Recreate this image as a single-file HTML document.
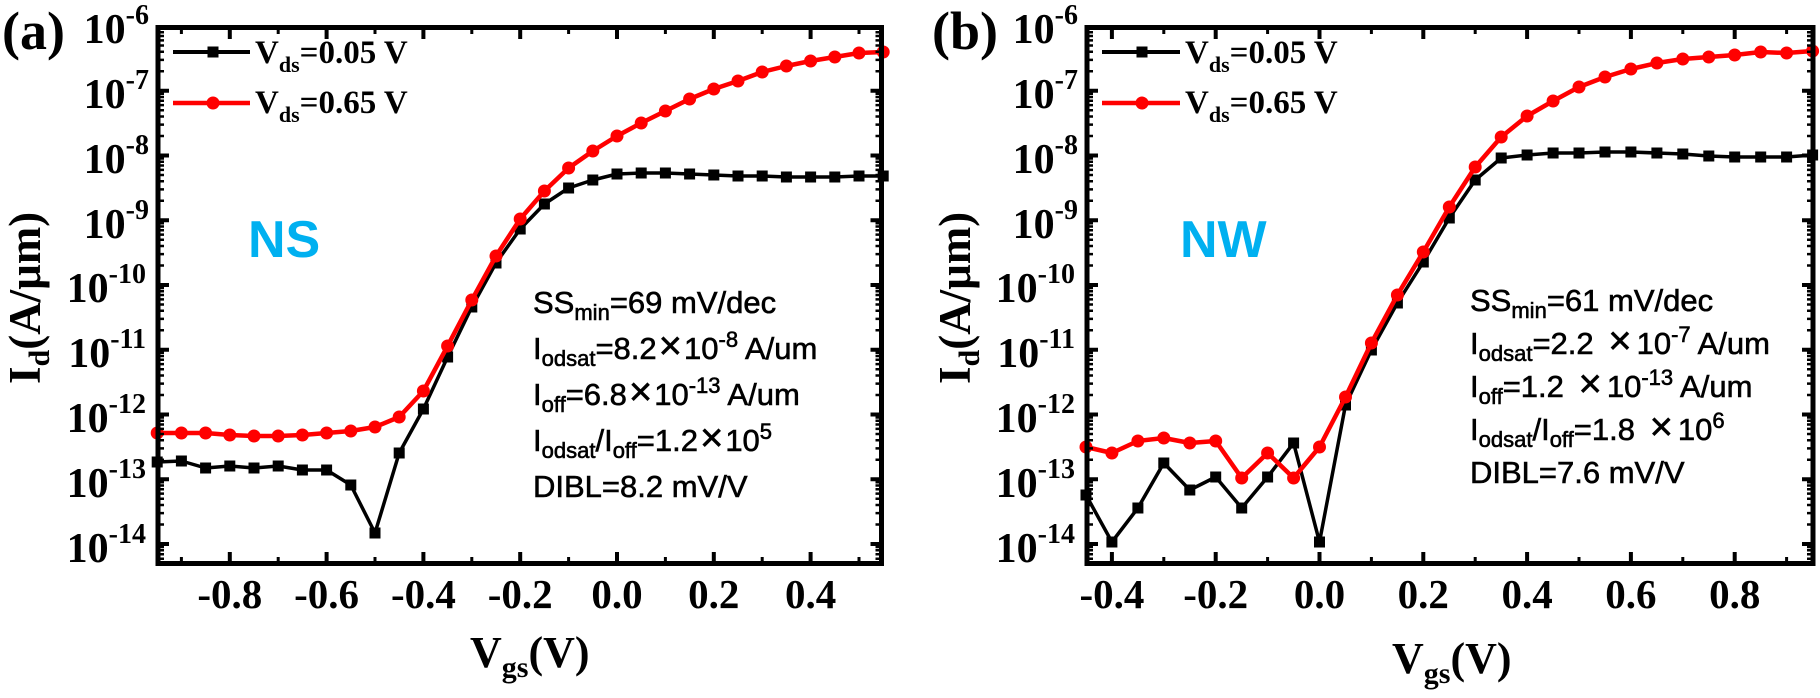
<!DOCTYPE html>
<html><head><meta charset="utf-8"><style>html,body{margin:0;padding:0;background:#fff}svg{display:block}</style></head>
<body>
<svg width="1820" height="698" viewBox="0 0 1820 698" xmlns="http://www.w3.org/2000/svg" xmlns:xlink="http://www.w3.org/1999/xlink">
<defs>
<path id="ym" fill="none" stroke="#000" stroke-width="2.5" d="M0 71.25h6M0 59.85h6M0 51.75h6M0 45.45h6M0 40.35h6M0 36.05h6M0 32.25h6M0 136h6M0 124.6h6M0 116.5h6M0 110.2h6M0 105.1h6M0 100.8h6M0 97h6M0 93.7h6M0 200.75h6M0 189.35h6M0 181.25h6M0 174.95h6M0 169.85h6M0 165.55h6M0 161.75h6M0 158.45h6M0 265.5h6M0 254.1h6M0 246h6M0 239.7h6M0 234.6h6M0 230.3h6M0 226.5h6M0 223.2h6M0 330.25h6M0 318.85h6M0 310.75h6M0 304.45h6M0 299.35h6M0 295.05h6M0 291.25h6M0 287.95h6M0 395h6M0 383.6h6M0 375.5h6M0 369.2h6M0 364.1h6M0 359.8h6M0 356h6M0 352.7h6M0 459.75h6M0 448.35h6M0 440.25h6M0 433.95h6M0 428.85h6M0 424.55h6M0 420.75h6M0 417.45h6M0 524.5h6M0 513.1h6M0 505h6M0 498.7h6M0 493.6h6M0 489.3h6M0 485.5h6M0 482.2h6M0 547h6M0 550.3h6M0 554.3h6M0 558.7h6"/>
<path id="yM" fill="none" stroke="#000" stroke-width="4" d="M0 90.75h11M0 155.5h11M0 220.25h11M0 285h11M0 349.75h11M0 414.5h11M0 479.25h11M0 544h11"/>
<rect id="s" x="-5.5" y="-5.5" width="11" height="11" fill="#000"/>
<circle id="c" r="6.5" fill="#ff0000"/>
</defs>

<!-- ===== LEFT PLOT (a) ===== -->
<g>
<polyline fill="none" stroke="#000" stroke-width="3.5" stroke-linejoin="round" points="157.2,462 181.4,461 205.6,468 229.8,466 254,468 278.2,466 302.4,470 326.6,470 350.8,485 375,533 399.2,453 423.4,409 447.6,357 471.8,307 496,263 520.2,229 544.4,204 568.6,188 592.8,180 617,174 641.2,173 665.4,173 689.6,174 713.8,175 738,176 762.2,176 786.4,177 810.6,177 834.8,177 859,176 883.2,176"/>
<use href="#s" x="157.2" y="462"/><use href="#s" x="181.4" y="461"/><use href="#s" x="205.6" y="468"/><use href="#s" x="229.8" y="466"/><use href="#s" x="254" y="468"/><use href="#s" x="278.2" y="466"/><use href="#s" x="302.4" y="470"/><use href="#s" x="326.6" y="470"/><use href="#s" x="350.8" y="485"/><use href="#s" x="375" y="533"/><use href="#s" x="399.2" y="453"/><use href="#s" x="423.4" y="409"/><use href="#s" x="447.6" y="357"/><use href="#s" x="471.8" y="307"/><use href="#s" x="496" y="263"/><use href="#s" x="520.2" y="229"/><use href="#s" x="544.4" y="204"/><use href="#s" x="568.6" y="188"/><use href="#s" x="592.8" y="180"/><use href="#s" x="617" y="174"/><use href="#s" x="641.2" y="173"/><use href="#s" x="665.4" y="173"/><use href="#s" x="689.6" y="174"/><use href="#s" x="713.8" y="175"/><use href="#s" x="738" y="176"/><use href="#s" x="762.2" y="176"/><use href="#s" x="786.4" y="177"/><use href="#s" x="810.6" y="177"/><use href="#s" x="834.8" y="177"/><use href="#s" x="859" y="176"/><use href="#s" x="883.2" y="176"/>

<polyline fill="none" stroke="#ff0000" stroke-width="4.5" stroke-linejoin="round" points="157.2,433 181.4,433 205.6,433 229.8,435 254,436 278.2,436 302.4,435 326.6,433 350.8,431 375,427 399.2,417 423.4,391 447.6,346 471.8,300 496,256 520.2,219 544.4,191 568.6,168 592.8,151 617,136 641.2,123 665.4,111 689.6,99 713.8,89 738,81 762.2,72 786.4,66 810.6,61 834.8,57 859,53 883.2,52"/>
<use href="#c" x="157.2" y="433"/><use href="#c" x="181.4" y="433"/><use href="#c" x="205.6" y="433"/><use href="#c" x="229.8" y="435"/><use href="#c" x="254" y="436"/><use href="#c" x="278.2" y="436"/><use href="#c" x="302.4" y="435"/><use href="#c" x="326.6" y="433"/><use href="#c" x="350.8" y="431"/><use href="#c" x="375" y="427"/><use href="#c" x="399.2" y="417"/><use href="#c" x="423.4" y="391"/><use href="#c" x="447.6" y="346"/><use href="#c" x="471.8" y="300"/><use href="#c" x="496" y="256"/><use href="#c" x="520.2" y="219"/><use href="#c" x="544.4" y="191"/><use href="#c" x="568.6" y="168"/><use href="#c" x="592.8" y="151"/><use href="#c" x="617" y="136"/><use href="#c" x="641.2" y="123"/><use href="#c" x="665.4" y="111"/><use href="#c" x="689.6" y="99"/><use href="#c" x="713.8" y="89"/><use href="#c" x="738" y="81"/><use href="#c" x="762.2" y="72"/><use href="#c" x="786.4" y="66"/><use href="#c" x="810.6" y="61"/><use href="#c" x="834.8" y="57"/><use href="#c" x="859" y="53"/><use href="#c" x="883.2" y="52"/>

<rect x="158" y="27.5" width="723.5" height="536" fill="none" stroke="#000" stroke-width="5"/>
<use href="#ym" x="158"/><use href="#yM" x="158"/>
<use href="#ym" transform="translate(881.5 0) scale(-1 1)"/><use href="#yM" transform="translate(881.5 0) scale(-1 1)"/>
<path fill="none" stroke="#000" stroke-width="4" d="M229.8 563v-11M326.6 563v-11M423.4 563v-11M520.2 563v-11M617 563v-11M713.8 563v-11M810.6 563v-11M229.8 28v11M326.6 28v11M423.4 28v11M520.2 28v11M617 28v11M713.8 28v11M810.6 28v11"/>
<path fill="none" stroke="#000" stroke-width="3" d="M181.4 563v-6M278.2 563v-6M375 563v-6M471.8 563v-6M568.6 563v-6M665.4 563v-6M762.2 563v-6M859 563v-6M181.4 28v6M278.2 28v6M375 28v6M471.8 28v6M568.6 28v6M665.4 28v6M762.2 28v6M859 28v6"/>

<line x1="173" y1="52" x2="250" y2="52" stroke="#000" stroke-width="4"/>
<use href="#s" x="213" y="52"/>
<line x1="173" y1="103" x2="250" y2="103" stroke="#ff0000" stroke-width="4.5"/>
<use href="#c" x="213" y="103"/>
<g font-family="Liberation Serif, serif" font-weight="bold" fill="#000">
<text x="255" y="63" font-size="33">V<tspan font-size="22" dy="9">ds</tspan><tspan dy="-9">=0.05 V</tspan></text>
<text x="255" y="113" font-size="33">V<tspan font-size="22" dy="9">ds</tspan><tspan dy="-9">=0.65 V</tspan></text>
<text x="2" y="49" font-size="54">(a)</text>
<g font-size="42" text-anchor="end">
<text x="149" y="43">10<tspan font-size="28" dy="-19">-6</tspan></text>
<text x="149" y="108">10<tspan font-size="28" dy="-19">-7</tspan></text>
<text x="149" y="173">10<tspan font-size="28" dy="-19">-8</tspan></text>
<text x="149" y="238">10<tspan font-size="28" dy="-19">-9</tspan></text>
<text x="146" y="302">10<tspan font-size="28" dy="-19">-10</tspan></text>
<text x="146" y="367">10<tspan font-size="28" dy="-19">-11</tspan></text>
<text x="146" y="432">10<tspan font-size="28" dy="-19">-12</tspan></text>
<text x="146" y="497">10<tspan font-size="28" dy="-19">-13</tspan></text>
<text x="146" y="562">10<tspan font-size="28" dy="-19">-14</tspan></text>
</g>
<g font-size="41" text-anchor="middle">
<text x="229.8" y="608">-0.8</text><text x="326.6" y="608">-0.6</text><text x="423.4" y="608">-0.4</text><text x="520.2" y="608">-0.2</text><text x="617" y="608">0.0</text><text x="713.8" y="608">0.2</text><text x="810.6" y="608">0.4</text>
</g>
<text x="470" y="667" font-size="44">V<tspan font-size="30" dy="10">gs</tspan><tspan dy="-10">(V)</tspan></text>
<text transform="translate(40 384) rotate(-90)" font-size="45">I<tspan font-size="30" dy="9">d</tspan><tspan dy="-9">(A/μm)</tspan></text>
</g>
<text x="248" y="257" font-family="Liberation Sans, sans-serif" font-weight="bold" font-size="52" fill="#00b0f0">NS</text>
<g font-family="Liberation Sans, sans-serif" font-size="31" fill="#000" stroke="#000" stroke-width="0.6">
<text x="533" y="313">SS<tspan font-size="22" dy="7">min</tspan><tspan dy="-7">=69 mV/dec</tspan></text>
<text x="533" y="359">I<tspan font-size="22" dy="7">odsat</tspan><tspan dy="-7">=8.2</tspan><tspan font-size="40" dx="2">×</tspan><tspan dx="2">10</tspan><tspan font-size="22" dy="-12">-8</tspan><tspan dy="12"> A/um</tspan></text>
<text x="533" y="405">I<tspan font-size="22" dy="7">off</tspan><tspan dy="-7">=6.8</tspan><tspan font-size="40" dx="2">×</tspan><tspan dx="2">10</tspan><tspan font-size="22" dy="-12">-13</tspan><tspan dy="12"> A/um</tspan></text>
<text x="533" y="451">I<tspan font-size="22" dy="7">odsat</tspan><tspan dy="-7">/I</tspan><tspan font-size="22" dy="7">off</tspan><tspan dy="-7">=1.2</tspan><tspan font-size="40" dx="2">×</tspan><tspan dx="2">10</tspan><tspan font-size="22" dy="-12">5</tspan></text>
<text x="533" y="497">DIBL=8.2 mV/V</text>
</g>
</g>

<!-- ===== RIGHT PLOT (b) ===== -->
<g>
<polyline fill="none" stroke="#000" stroke-width="3.5" stroke-linejoin="round" points="1086,495 1111.9,542 1137.9,508 1163.8,463 1189.8,490 1215.7,477 1241.7,508 1267.6,477 1293.6,443 1319.5,542 1345.5,405 1371.4,350 1397.4,303 1423.3,262 1449.3,218 1475.2,180 1501.2,158 1527.1,155 1553.1,153 1579,153 1605,152 1630.9,152 1656.9,153 1682.8,154 1708.8,156 1734.7,157 1760.7,157 1786.6,157 1812.6,155"/>
<use href="#s" x="1086" y="495"/><use href="#s" x="1111.9" y="542"/><use href="#s" x="1137.9" y="508"/><use href="#s" x="1163.8" y="463"/><use href="#s" x="1189.8" y="490"/><use href="#s" x="1215.7" y="477"/><use href="#s" x="1241.7" y="508"/><use href="#s" x="1267.6" y="477"/><use href="#s" x="1293.6" y="443"/><use href="#s" x="1319.5" y="542"/><use href="#s" x="1345.5" y="405"/><use href="#s" x="1371.4" y="350"/><use href="#s" x="1397.4" y="303"/><use href="#s" x="1423.3" y="262"/><use href="#s" x="1449.3" y="218"/><use href="#s" x="1475.2" y="180"/><use href="#s" x="1501.2" y="158"/><use href="#s" x="1527.1" y="155"/><use href="#s" x="1553.1" y="153"/><use href="#s" x="1579" y="153"/><use href="#s" x="1605" y="152"/><use href="#s" x="1630.9" y="152"/><use href="#s" x="1656.9" y="153"/><use href="#s" x="1682.8" y="154"/><use href="#s" x="1708.8" y="156"/><use href="#s" x="1734.7" y="157"/><use href="#s" x="1760.7" y="157"/><use href="#s" x="1786.6" y="157"/><use href="#s" x="1812.6" y="155"/>

<polyline fill="none" stroke="#ff0000" stroke-width="4.5" stroke-linejoin="round" points="1086,447 1111.9,453 1137.9,441 1163.8,438 1189.8,443 1215.7,441 1241.7,478 1267.6,453 1293.6,478 1319.5,447 1345.5,397 1371.4,343 1397.4,295 1423.3,252 1449.3,207 1475.2,167 1501.2,137 1527.1,116 1553.1,101 1579,87 1605,77 1630.9,69 1656.9,63 1682.8,59 1708.8,57 1734.7,55 1760.7,52 1786.6,53 1812.6,51"/>
<use href="#c" x="1086" y="447"/><use href="#c" x="1111.9" y="453"/><use href="#c" x="1137.9" y="441"/><use href="#c" x="1163.8" y="438"/><use href="#c" x="1189.8" y="443"/><use href="#c" x="1215.7" y="441"/><use href="#c" x="1241.7" y="478"/><use href="#c" x="1267.6" y="453"/><use href="#c" x="1293.6" y="478"/><use href="#c" x="1319.5" y="447"/><use href="#c" x="1345.5" y="397"/><use href="#c" x="1371.4" y="343"/><use href="#c" x="1397.4" y="295"/><use href="#c" x="1423.3" y="252"/><use href="#c" x="1449.3" y="207"/><use href="#c" x="1475.2" y="167"/><use href="#c" x="1501.2" y="137"/><use href="#c" x="1527.1" y="116"/><use href="#c" x="1553.1" y="101"/><use href="#c" x="1579" y="87"/><use href="#c" x="1605" y="77"/><use href="#c" x="1630.9" y="69"/><use href="#c" x="1656.9" y="63"/><use href="#c" x="1682.8" y="59"/><use href="#c" x="1708.8" y="57"/><use href="#c" x="1734.7" y="55"/><use href="#c" x="1760.7" y="52"/><use href="#c" x="1786.6" y="53"/><use href="#c" x="1812.6" y="51"/>

<rect x="1087" y="27.5" width="726" height="536" fill="none" stroke="#000" stroke-width="5"/>
<use href="#ym" x="1087"/><use href="#yM" x="1087"/>
<use href="#ym" transform="translate(1813 0) scale(-1 1)"/><use href="#yM" transform="translate(1813 0) scale(-1 1)"/>
<path fill="none" stroke="#000" stroke-width="4" d="M1111.9 563v-11M1215.7 563v-11M1319.5 563v-11M1423.3 563v-11M1527.1 563v-11M1630.9 563v-11M1734.7 563v-11M1111.9 28v11M1215.7 28v11M1319.5 28v11M1423.3 28v11M1527.1 28v11M1630.9 28v11M1734.7 28v11"/>
<path fill="none" stroke="#000" stroke-width="3" d="M1163.8 563v-6M1267.6 563v-6M1371.4 563v-6M1475.2 563v-6M1579 563v-6M1682.8 563v-6M1786.6 563v-6M1163.8 28v6M1267.6 28v6M1371.4 28v6M1475.2 28v6M1579 28v6M1682.8 28v6M1786.6 28v6"/>

<line x1="1102" y1="52" x2="1180" y2="52" stroke="#000" stroke-width="4"/>
<use href="#s" x="1142" y="52"/>
<line x1="1102" y1="103" x2="1180" y2="103" stroke="#ff0000" stroke-width="4.5"/>
<use href="#c" x="1142" y="103"/>
<g font-family="Liberation Serif, serif" font-weight="bold" fill="#000">
<text x="1185" y="63" font-size="33">V<tspan font-size="22" dy="9">ds</tspan><tspan dy="-9">=0.05 V</tspan></text>
<text x="1185" y="113" font-size="33">V<tspan font-size="22" dy="9">ds</tspan><tspan dy="-9">=0.65 V</tspan></text>
<text x="932" y="49" font-size="54">(b)</text>
<g font-size="42" text-anchor="end">
<text x="1078" y="43">10<tspan font-size="28" dy="-19">-6</tspan></text>
<text x="1078" y="108">10<tspan font-size="28" dy="-19">-7</tspan></text>
<text x="1078" y="173">10<tspan font-size="28" dy="-19">-8</tspan></text>
<text x="1078" y="238">10<tspan font-size="28" dy="-19">-9</tspan></text>
<text x="1075" y="302">10<tspan font-size="28" dy="-19">-10</tspan></text>
<text x="1075" y="367">10<tspan font-size="28" dy="-19">-11</tspan></text>
<text x="1075" y="432">10<tspan font-size="28" dy="-19">-12</tspan></text>
<text x="1075" y="497">10<tspan font-size="28" dy="-19">-13</tspan></text>
<text x="1075" y="562">10<tspan font-size="28" dy="-19">-14</tspan></text>
</g>
<g font-size="41" text-anchor="middle">
<text x="1111.9" y="608">-0.4</text><text x="1215.7" y="608">-0.2</text><text x="1319.5" y="608">0.0</text><text x="1423.3" y="608">0.2</text><text x="1527.1" y="608">0.4</text><text x="1630.9" y="608">0.6</text><text x="1734.7" y="608">0.8</text>
</g>
<text x="1392" y="673" font-size="44">V<tspan font-size="30" dy="10">gs</tspan><tspan dy="-10">(V)</tspan></text>
<text transform="translate(970 384) rotate(-90)" font-size="45">I<tspan font-size="30" dy="9">d</tspan><tspan dy="-9">(A/μm)</tspan></text>
</g>
<text x="1180" y="257" font-family="Liberation Sans, sans-serif" font-weight="bold" font-size="52" fill="#00b0f0">NW</text>
<g font-family="Liberation Sans, sans-serif" font-size="31" fill="#000" stroke="#000" stroke-width="0.6">
<text x="1470" y="311">SS<tspan font-size="22" dy="7">min</tspan><tspan dy="-7">=61 mV/dec</tspan></text>
<text x="1470" y="354">I<tspan font-size="22" dy="7">odsat</tspan><tspan dy="-7">=2.2 </tspan><tspan font-size="40" dx="6">×</tspan><tspan dx="5">10</tspan><tspan font-size="22" dy="-12">-7</tspan><tspan dy="12"> A/um</tspan></text>
<text x="1470" y="397">I<tspan font-size="22" dy="7">off</tspan><tspan dy="-7">=1.2 </tspan><tspan font-size="40" dx="6">×</tspan><tspan dx="5">10</tspan><tspan font-size="22" dy="-12">-13</tspan><tspan dy="12"> A/um</tspan></text>
<text x="1470" y="440">I<tspan font-size="22" dy="7">odsat</tspan><tspan dy="-7">/I</tspan><tspan font-size="22" dy="7">off</tspan><tspan dy="-7">=1.8 </tspan><tspan font-size="40" dx="6">×</tspan><tspan dx="5">10</tspan><tspan font-size="22" dy="-12">6</tspan></text>
<text x="1470" y="483">DIBL=7.6 mV/V</text>
</g>
</g>
</svg>
</body></html>
